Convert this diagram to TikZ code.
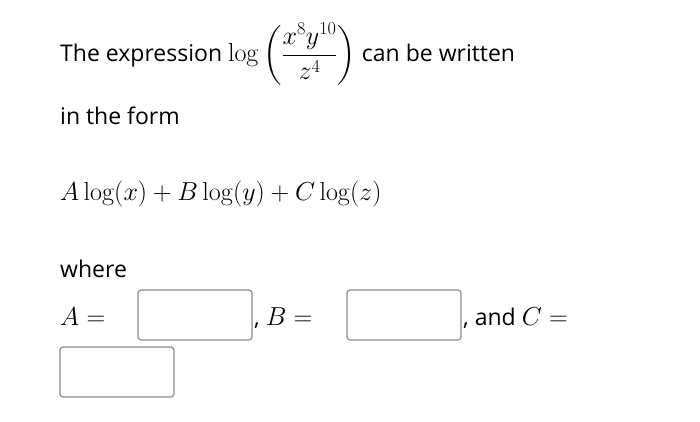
\documentclass[tikz,border=0pt]{standalone}
\usepackage{fix-cm}
\usepackage{amsmath}
\usepackage[no-math]{fontspec}
\setmainfont{Open Sans}
\begin{document}
\begin{tikzpicture}[x=1pt,y=-1pt,
  txt/.style={anchor=base west,inner sep=0,font=\fontsize{23}{27}\selectfont},
  mth/.style={anchor=base west,inner sep=0,font=\fontsize{26}{30}\selectfont},
  ansbox/.style={draw=black!45,rounded corners=3pt,line width=1.2pt,minimum width=114pt,minimum height=50pt,inner sep=0}]
\useasboundingbox (0,0) rectangle (700,422);
\node[txt] (t1) at (60,62) {The expression \fontsize{26}{30}\selectfont$\log\left(\dfrac{x^8y^{10}}{z^4}\right)$\fontsize{23}{27}\selectfont\ can be written};
\node[txt] (t2) at (60,125) {in the form};
\node[mth] (t3) at (60,200) {$A\log(x)+B\log(y)+C\log(z)$};
\node[txt] (t4) at (60,277) {where};
\node[mth] (a) at (60,325) {$A=$};
\node[ansbox] (b1) at (195,315) {};
\node[txt] (bl) at (254,325) {, \fontsize{26}{30}\selectfont$B=$};
\node[ansbox] (b2) at (404,315) {};
\node[txt] (cl) at (463,325) {, and \fontsize{26}{30}\selectfont$C=$};
\node[ansbox] (b3) at (117,372) {};
\end{tikzpicture}
\end{document}
